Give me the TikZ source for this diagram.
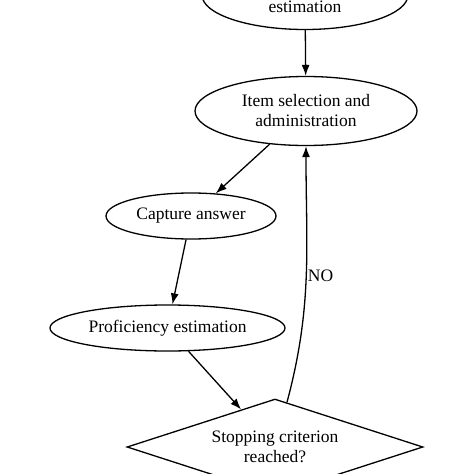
\documentclass[tikz,border=0pt]{standalone}
\usepackage{fontspec}
\setmainfont{Liberation Serif}
\usetikzlibrary{shapes.geometric,arrows.meta}
\begin{document}
\begin{tikzpicture}[x=1pt,y=-1pt,line width=1.3pt,
  font=\fontsize{17.5}{20}\selectfont,
  state/.style={ellipse, draw, inner sep=0pt, align=center, minimum height=69pt},
  check/.style={diamond, draw, inner sep=0pt, align=center, aspect=3.08, minimum width=296pt, minimum height=96pt},
  flow/.style={-{Latex[length=11pt,width=8pt]}}]
\useasboundingbox (0,0) rectangle (474,474);
\clip (0,0) rectangle (474,474);
\node (init) [state, minimum width=206pt] at (305,-5) {\mbox{}\\[15pt]estimation};
\node (item) [state, minimum width=222pt, below of=init, node distance=116pt, xshift=1pt] {Item selection and\\administration};
\node (capt) [state, minimum width=170pt, minimum height=46pt, below of=item, node distance=105pt, xshift=-115pt] {Capture answer};
\node (prof) [state, minimum width=235pt, minimum height=46pt, below of=capt, node distance=112pt, xshift=-23.5pt] {Proficiency estimation};
\node (stop) [check, below of=prof, node distance=119pt, xshift=107.5pt] {Stopping criterion\\reached?};
\draw [flow] (init) -- (item);
\draw [flow] (item) -- (capt);
\draw [flow] (capt) -- (prof);
\draw [flow] (prof) -- (stop);
\draw [flow] (stop) to[out=75,in=-90] node[right, inner sep=1pt] {NO} (item);
\end{tikzpicture}
\end{document}
